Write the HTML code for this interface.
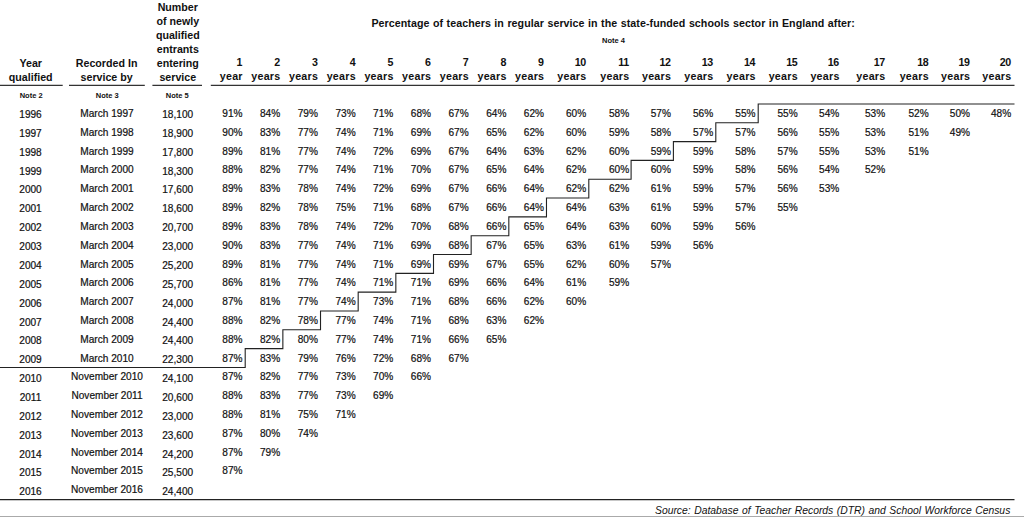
<!DOCTYPE html>
<html><head><meta charset="utf-8"><title>Teacher retention</title>
<style>
html,body{margin:0;padding:0;background:#fff;}
body{width:1024px;height:518px;position:relative;overflow:hidden;font-family:"Liberation Sans",Arial,sans-serif;color:#1a1a1a;}
.t{position:absolute;white-space:nowrap;}
.b{font-weight:bold;font-size:10.67px;line-height:13px;color:#111;}
.d{font-size:10.1px;line-height:12px;color:#111;-webkit-text-stroke:0.2px #111;}
.n{font-weight:bold;font-size:7.5px;line-height:9px;color:#111;}
.i{font-style:italic;font-size:10.35px;line-height:12px;color:#111;word-spacing:0.68px;}
.ti{word-spacing:0.45px;letter-spacing:0.06px;}
.yl{letter-spacing:.27px;}
.nl{letter-spacing:-.4px;}
svg{position:absolute;left:0;top:0;}
.ln{stroke:#222;stroke-width:1.1;fill:none;}
.ln2{stroke:#333;stroke-width:1.3;}
.ln3{stroke:#222;stroke-width:1.1;}
.lg{stroke:#aaa;stroke-width:1;}
</style></head><body>
<svg width="1024" height="518" viewBox="0 0 1024 518">
<line class="ln2" x1="0.00" y1="85.30" x2="62.70" y2="85.30"/>
<line class="ln2" x1="69.00" y1="85.30" x2="144.80" y2="85.30"/>
<line class="ln2" x1="152.40" y1="85.30" x2="202.00" y2="85.30"/>
<line class="ln2" x1="210.80" y1="85.30" x2="1014.50" y2="85.30"/>
<polyline class="ln" points="1014.50,103.95 758.20,103.95 758.20,122.77 715.80,122.77 715.80,141.59 673.40,141.59 673.40,160.41 631.10,160.41 631.10,179.23 588.80,179.23 588.80,198.05 546.48,198.05 546.48,216.87 508.82,216.87 508.82,235.69 471.16,235.69 471.16,254.51 433.50,254.51 433.50,273.33 395.84,273.33 395.84,292.15 358.18,292.15 358.18,310.97 320.52,310.97 320.52,329.79 282.86,329.79 282.86,348.61 245.20,348.61 245.20,367.43 0.00,367.43"/>
<line class="ln3" x1="0.00" y1="499.60" x2="1014.50" y2="499.60"/>
<line class="lg" x1="0.00" y1="516.50" x2="1024.00" y2="516.50"/>
</svg>
<div class="t b ti" style="top:17px;left:371.40px">Percentage of teachers in regular service in the state-funded schools sector in England after:</div>
<div class="t n" style="top:36px;left:463.50px;width:300px;text-align:center">Note 4</div>
<div class="t b" style="top:57px;left:-119.30px;width:300px;text-align:center">Year</div>
<div class="t b" style="top:71px;left:-119.30px;width:300px;text-align:center">qualified</div>
<div class="t b" style="top:57px;left:-43.40px;width:300px;text-align:center">Recorded In</div>
<div class="t b" style="top:71px;left:-43.40px;width:300px;text-align:center">service by</div>
<div class="t b" style="top:1px;left:27.80px;width:300px;text-align:center">Number</div>
<div class="t b" style="top:15px;left:27.80px;width:300px;text-align:center">of newly</div>
<div class="t b" style="top:29px;left:27.80px;width:300px;text-align:center">qualified</div>
<div class="t b" style="top:43px;left:27.80px;width:300px;text-align:center">entrants</div>
<div class="t b" style="top:57px;left:27.80px;width:300px;text-align:center">entering</div>
<div class="t b" style="top:71px;left:27.80px;width:300px;text-align:center">service</div>
<div class="t b nl" style="top:56px;right:781.90px">1</div>
<div class="t b yl" style="top:70px;right:781.23px">year</div>
<div class="t b nl" style="top:56px;right:744.20px">2</div>
<div class="t b yl" style="top:70px;right:743.53px">years</div>
<div class="t b nl" style="top:56px;right:706.50px">3</div>
<div class="t b yl" style="top:70px;right:705.83px">years</div>
<div class="t b nl" style="top:56px;right:668.80px">4</div>
<div class="t b yl" style="top:70px;right:668.13px">years</div>
<div class="t b nl" style="top:56px;right:631.10px">5</div>
<div class="t b yl" style="top:70px;right:630.43px">years</div>
<div class="t b nl" style="top:56px;right:593.40px">6</div>
<div class="t b yl" style="top:70px;right:592.73px">years</div>
<div class="t b nl" style="top:56px;right:555.70px">7</div>
<div class="t b yl" style="top:70px;right:555.03px">years</div>
<div class="t b nl" style="top:56px;right:518.00px">8</div>
<div class="t b yl" style="top:70px;right:517.33px">years</div>
<div class="t b nl" style="top:56px;right:480.40px">9</div>
<div class="t b yl" style="top:70px;right:479.73px">years</div>
<div class="t b nl" style="top:56px;right:438.20px">10</div>
<div class="t b yl" style="top:70px;right:437.53px">years</div>
<div class="t b nl" style="top:56px;right:395.20px">11</div>
<div class="t b yl" style="top:70px;right:394.53px">years</div>
<div class="t b nl" style="top:56px;right:353.50px">12</div>
<div class="t b yl" style="top:70px;right:352.83px">years</div>
<div class="t b nl" style="top:56px;right:311.20px">13</div>
<div class="t b yl" style="top:70px;right:310.53px">years</div>
<div class="t b nl" style="top:56px;right:268.90px">14</div>
<div class="t b yl" style="top:70px;right:268.23px">years</div>
<div class="t b nl" style="top:56px;right:226.80px">15</div>
<div class="t b yl" style="top:70px;right:226.13px">years</div>
<div class="t b nl" style="top:56px;right:185.10px">16</div>
<div class="t b yl" style="top:70px;right:184.43px">years</div>
<div class="t b nl" style="top:56px;right:139.20px">17</div>
<div class="t b yl" style="top:70px;right:138.53px">years</div>
<div class="t b nl" style="top:56px;right:95.80px">18</div>
<div class="t b yl" style="top:70px;right:95.13px">years</div>
<div class="t b nl" style="top:56px;right:54.40px">19</div>
<div class="t b yl" style="top:70px;right:53.73px">years</div>
<div class="t b nl" style="top:56px;right:13.20px">20</div>
<div class="t b yl" style="top:70px;right:12.53px">years</div>
<div class="t n" style="top:91px;left:-118.90px;width:300px;text-align:center">Note 2</div>
<div class="t n" style="top:91px;left:-42.80px;width:300px;text-align:center">Note 3</div>
<div class="t n" style="top:91px;left:27.20px;width:300px;text-align:center">Note 5</div>
<div class="t d" style="top:109px;left:-119.50px;width:300px;text-align:center">1996</div>
<div class="t d" style="top:108px;left:-43.00px;width:300px;text-align:center">March 1997</div>
<div class="t d" style="top:109px;left:27.70px;width:300px;text-align:center">18,100</div>
<div class="t d" style="top:108px;right:781.50px">91%</div>
<div class="t d" style="top:108px;right:743.80px">84%</div>
<div class="t d" style="top:108px;right:706.10px">79%</div>
<div class="t d" style="top:108px;right:668.40px">73%</div>
<div class="t d" style="top:108px;right:630.70px">71%</div>
<div class="t d" style="top:108px;right:593.00px">68%</div>
<div class="t d" style="top:108px;right:555.30px">67%</div>
<div class="t d" style="top:108px;right:517.60px">64%</div>
<div class="t d" style="top:108px;right:480.00px">62%</div>
<div class="t d" style="top:108px;right:437.80px">60%</div>
<div class="t d" style="top:108px;right:394.80px">58%</div>
<div class="t d" style="top:108px;right:353.10px">57%</div>
<div class="t d" style="top:108px;right:310.80px">56%</div>
<div class="t d" style="top:108px;right:268.50px">55%</div>
<div class="t d" style="top:108px;right:226.40px">55%</div>
<div class="t d" style="top:108px;right:184.70px">54%</div>
<div class="t d" style="top:108px;right:138.80px">53%</div>
<div class="t d" style="top:108px;right:95.40px">52%</div>
<div class="t d" style="top:108px;right:54.00px">50%</div>
<div class="t d" style="top:108px;right:12.80px">48%</div>
<div class="t d" style="top:128px;left:-119.50px;width:300px;text-align:center">1997</div>
<div class="t d" style="top:127px;left:-43.00px;width:300px;text-align:center">March 1998</div>
<div class="t d" style="top:128px;left:27.70px;width:300px;text-align:center">18,900</div>
<div class="t d" style="top:127px;right:781.50px">90%</div>
<div class="t d" style="top:127px;right:743.80px">83%</div>
<div class="t d" style="top:127px;right:706.10px">77%</div>
<div class="t d" style="top:127px;right:668.40px">74%</div>
<div class="t d" style="top:127px;right:630.70px">71%</div>
<div class="t d" style="top:127px;right:593.00px">69%</div>
<div class="t d" style="top:127px;right:555.30px">67%</div>
<div class="t d" style="top:127px;right:517.60px">65%</div>
<div class="t d" style="top:127px;right:480.00px">62%</div>
<div class="t d" style="top:127px;right:437.80px">60%</div>
<div class="t d" style="top:127px;right:394.80px">59%</div>
<div class="t d" style="top:127px;right:353.10px">58%</div>
<div class="t d" style="top:127px;right:310.80px">57%</div>
<div class="t d" style="top:127px;right:268.50px">57%</div>
<div class="t d" style="top:127px;right:226.40px">56%</div>
<div class="t d" style="top:127px;right:184.70px">55%</div>
<div class="t d" style="top:127px;right:138.80px">53%</div>
<div class="t d" style="top:127px;right:95.40px">51%</div>
<div class="t d" style="top:127px;right:54.00px">49%</div>
<div class="t d" style="top:147px;left:-119.50px;width:300px;text-align:center">1998</div>
<div class="t d" style="top:146px;left:-43.00px;width:300px;text-align:center">March 1999</div>
<div class="t d" style="top:147px;left:27.70px;width:300px;text-align:center">17,800</div>
<div class="t d" style="top:146px;right:781.50px">89%</div>
<div class="t d" style="top:146px;right:743.80px">81%</div>
<div class="t d" style="top:146px;right:706.10px">77%</div>
<div class="t d" style="top:146px;right:668.40px">74%</div>
<div class="t d" style="top:146px;right:630.70px">72%</div>
<div class="t d" style="top:146px;right:593.00px">69%</div>
<div class="t d" style="top:146px;right:555.30px">67%</div>
<div class="t d" style="top:146px;right:517.60px">64%</div>
<div class="t d" style="top:146px;right:480.00px">63%</div>
<div class="t d" style="top:146px;right:437.80px">62%</div>
<div class="t d" style="top:146px;right:394.80px">60%</div>
<div class="t d" style="top:146px;right:353.10px">59%</div>
<div class="t d" style="top:146px;right:310.80px">59%</div>
<div class="t d" style="top:146px;right:268.50px">58%</div>
<div class="t d" style="top:146px;right:226.40px">57%</div>
<div class="t d" style="top:146px;right:184.70px">55%</div>
<div class="t d" style="top:146px;right:138.80px">53%</div>
<div class="t d" style="top:146px;right:95.40px">51%</div>
<div class="t d" style="top:166px;left:-119.50px;width:300px;text-align:center">1999</div>
<div class="t d" style="top:164px;left:-43.00px;width:300px;text-align:center">March 2000</div>
<div class="t d" style="top:166px;left:27.70px;width:300px;text-align:center">18,300</div>
<div class="t d" style="top:164px;right:781.50px">88%</div>
<div class="t d" style="top:164px;right:743.80px">82%</div>
<div class="t d" style="top:164px;right:706.10px">77%</div>
<div class="t d" style="top:164px;right:668.40px">74%</div>
<div class="t d" style="top:164px;right:630.70px">71%</div>
<div class="t d" style="top:164px;right:593.00px">70%</div>
<div class="t d" style="top:164px;right:555.30px">67%</div>
<div class="t d" style="top:164px;right:517.60px">65%</div>
<div class="t d" style="top:164px;right:480.00px">64%</div>
<div class="t d" style="top:164px;right:437.80px">62%</div>
<div class="t d" style="top:164px;right:394.80px">60%</div>
<div class="t d" style="top:164px;right:353.10px">60%</div>
<div class="t d" style="top:164px;right:310.80px">59%</div>
<div class="t d" style="top:164px;right:268.50px">58%</div>
<div class="t d" style="top:164px;right:226.40px">56%</div>
<div class="t d" style="top:164px;right:184.70px">54%</div>
<div class="t d" style="top:164px;right:138.80px">52%</div>
<div class="t d" style="top:184px;left:-119.50px;width:300px;text-align:center">2000</div>
<div class="t d" style="top:183px;left:-43.00px;width:300px;text-align:center">March 2001</div>
<div class="t d" style="top:184px;left:27.70px;width:300px;text-align:center">17,600</div>
<div class="t d" style="top:183px;right:781.50px">89%</div>
<div class="t d" style="top:183px;right:743.80px">83%</div>
<div class="t d" style="top:183px;right:706.10px">78%</div>
<div class="t d" style="top:183px;right:668.40px">74%</div>
<div class="t d" style="top:183px;right:630.70px">72%</div>
<div class="t d" style="top:183px;right:593.00px">69%</div>
<div class="t d" style="top:183px;right:555.30px">67%</div>
<div class="t d" style="top:183px;right:517.60px">66%</div>
<div class="t d" style="top:183px;right:480.00px">64%</div>
<div class="t d" style="top:183px;right:437.80px">62%</div>
<div class="t d" style="top:183px;right:394.80px">62%</div>
<div class="t d" style="top:183px;right:353.10px">61%</div>
<div class="t d" style="top:183px;right:310.80px">59%</div>
<div class="t d" style="top:183px;right:268.50px">57%</div>
<div class="t d" style="top:183px;right:226.40px">56%</div>
<div class="t d" style="top:183px;right:184.70px">53%</div>
<div class="t d" style="top:203px;left:-119.50px;width:300px;text-align:center">2001</div>
<div class="t d" style="top:202px;left:-43.00px;width:300px;text-align:center">March 2002</div>
<div class="t d" style="top:203px;left:27.70px;width:300px;text-align:center">18,600</div>
<div class="t d" style="top:202px;right:781.50px">89%</div>
<div class="t d" style="top:202px;right:743.80px">82%</div>
<div class="t d" style="top:202px;right:706.10px">78%</div>
<div class="t d" style="top:202px;right:668.40px">75%</div>
<div class="t d" style="top:202px;right:630.70px">71%</div>
<div class="t d" style="top:202px;right:593.00px">68%</div>
<div class="t d" style="top:202px;right:555.30px">67%</div>
<div class="t d" style="top:202px;right:517.60px">66%</div>
<div class="t d" style="top:202px;right:480.00px">64%</div>
<div class="t d" style="top:202px;right:437.80px">64%</div>
<div class="t d" style="top:202px;right:394.80px">63%</div>
<div class="t d" style="top:202px;right:353.10px">61%</div>
<div class="t d" style="top:202px;right:310.80px">59%</div>
<div class="t d" style="top:202px;right:268.50px">57%</div>
<div class="t d" style="top:202px;right:226.40px">55%</div>
<div class="t d" style="top:222px;left:-119.50px;width:300px;text-align:center">2002</div>
<div class="t d" style="top:221px;left:-43.00px;width:300px;text-align:center">March 2003</div>
<div class="t d" style="top:222px;left:27.70px;width:300px;text-align:center">20,700</div>
<div class="t d" style="top:221px;right:781.50px">89%</div>
<div class="t d" style="top:221px;right:743.80px">83%</div>
<div class="t d" style="top:221px;right:706.10px">78%</div>
<div class="t d" style="top:221px;right:668.40px">74%</div>
<div class="t d" style="top:221px;right:630.70px">72%</div>
<div class="t d" style="top:221px;right:593.00px">70%</div>
<div class="t d" style="top:221px;right:555.30px">68%</div>
<div class="t d" style="top:221px;right:517.60px">66%</div>
<div class="t d" style="top:221px;right:480.00px">65%</div>
<div class="t d" style="top:221px;right:437.80px">64%</div>
<div class="t d" style="top:221px;right:394.80px">63%</div>
<div class="t d" style="top:221px;right:353.10px">60%</div>
<div class="t d" style="top:221px;right:310.80px">59%</div>
<div class="t d" style="top:221px;right:268.50px">56%</div>
<div class="t d" style="top:241px;left:-119.50px;width:300px;text-align:center">2003</div>
<div class="t d" style="top:240px;left:-43.00px;width:300px;text-align:center">March 2004</div>
<div class="t d" style="top:241px;left:27.70px;width:300px;text-align:center">23,000</div>
<div class="t d" style="top:240px;right:781.50px">90%</div>
<div class="t d" style="top:240px;right:743.80px">83%</div>
<div class="t d" style="top:240px;right:706.10px">77%</div>
<div class="t d" style="top:240px;right:668.40px">74%</div>
<div class="t d" style="top:240px;right:630.70px">71%</div>
<div class="t d" style="top:240px;right:593.00px">69%</div>
<div class="t d" style="top:240px;right:555.30px">68%</div>
<div class="t d" style="top:240px;right:517.60px">67%</div>
<div class="t d" style="top:240px;right:480.00px">65%</div>
<div class="t d" style="top:240px;right:437.80px">63%</div>
<div class="t d" style="top:240px;right:394.80px">61%</div>
<div class="t d" style="top:240px;right:353.10px">59%</div>
<div class="t d" style="top:240px;right:310.80px">56%</div>
<div class="t d" style="top:260px;left:-119.50px;width:300px;text-align:center">2004</div>
<div class="t d" style="top:259px;left:-43.00px;width:300px;text-align:center">March 2005</div>
<div class="t d" style="top:260px;left:27.70px;width:300px;text-align:center">25,200</div>
<div class="t d" style="top:259px;right:781.50px">89%</div>
<div class="t d" style="top:259px;right:743.80px">81%</div>
<div class="t d" style="top:259px;right:706.10px">77%</div>
<div class="t d" style="top:259px;right:668.40px">74%</div>
<div class="t d" style="top:259px;right:630.70px">71%</div>
<div class="t d" style="top:259px;right:593.00px">69%</div>
<div class="t d" style="top:259px;right:555.30px">69%</div>
<div class="t d" style="top:259px;right:517.60px">67%</div>
<div class="t d" style="top:259px;right:480.00px">65%</div>
<div class="t d" style="top:259px;right:437.80px">62%</div>
<div class="t d" style="top:259px;right:394.80px">60%</div>
<div class="t d" style="top:259px;right:353.10px">57%</div>
<div class="t d" style="top:279px;left:-119.50px;width:300px;text-align:center">2005</div>
<div class="t d" style="top:277px;left:-43.00px;width:300px;text-align:center">March 2006</div>
<div class="t d" style="top:279px;left:27.70px;width:300px;text-align:center">25,700</div>
<div class="t d" style="top:277px;right:781.50px">86%</div>
<div class="t d" style="top:277px;right:743.80px">81%</div>
<div class="t d" style="top:277px;right:706.10px">77%</div>
<div class="t d" style="top:277px;right:668.40px">74%</div>
<div class="t d" style="top:277px;right:630.70px">71%</div>
<div class="t d" style="top:277px;right:593.00px">71%</div>
<div class="t d" style="top:277px;right:555.30px">69%</div>
<div class="t d" style="top:277px;right:517.60px">66%</div>
<div class="t d" style="top:277px;right:480.00px">64%</div>
<div class="t d" style="top:277px;right:437.80px">61%</div>
<div class="t d" style="top:277px;right:394.80px">59%</div>
<div class="t d" style="top:298px;left:-119.50px;width:300px;text-align:center">2006</div>
<div class="t d" style="top:296px;left:-43.00px;width:300px;text-align:center">March 2007</div>
<div class="t d" style="top:298px;left:27.70px;width:300px;text-align:center">24,000</div>
<div class="t d" style="top:296px;right:781.50px">87%</div>
<div class="t d" style="top:296px;right:743.80px">81%</div>
<div class="t d" style="top:296px;right:706.10px">77%</div>
<div class="t d" style="top:296px;right:668.40px">74%</div>
<div class="t d" style="top:296px;right:630.70px">73%</div>
<div class="t d" style="top:296px;right:593.00px">71%</div>
<div class="t d" style="top:296px;right:555.30px">68%</div>
<div class="t d" style="top:296px;right:517.60px">66%</div>
<div class="t d" style="top:296px;right:480.00px">62%</div>
<div class="t d" style="top:296px;right:437.80px">60%</div>
<div class="t d" style="top:317px;left:-119.50px;width:300px;text-align:center">2007</div>
<div class="t d" style="top:315px;left:-43.00px;width:300px;text-align:center">March 2008</div>
<div class="t d" style="top:317px;left:27.70px;width:300px;text-align:center">24,400</div>
<div class="t d" style="top:315px;right:781.50px">88%</div>
<div class="t d" style="top:315px;right:743.80px">82%</div>
<div class="t d" style="top:315px;right:706.10px">78%</div>
<div class="t d" style="top:315px;right:668.40px">77%</div>
<div class="t d" style="top:315px;right:630.70px">74%</div>
<div class="t d" style="top:315px;right:593.00px">71%</div>
<div class="t d" style="top:315px;right:555.30px">68%</div>
<div class="t d" style="top:315px;right:517.60px">63%</div>
<div class="t d" style="top:315px;right:480.00px">62%</div>
<div class="t d" style="top:335px;left:-119.50px;width:300px;text-align:center">2008</div>
<div class="t d" style="top:334px;left:-43.00px;width:300px;text-align:center">March 2009</div>
<div class="t d" style="top:335px;left:27.70px;width:300px;text-align:center">24,400</div>
<div class="t d" style="top:334px;right:781.50px">88%</div>
<div class="t d" style="top:334px;right:743.80px">82%</div>
<div class="t d" style="top:334px;right:706.10px">80%</div>
<div class="t d" style="top:334px;right:668.40px">77%</div>
<div class="t d" style="top:334px;right:630.70px">74%</div>
<div class="t d" style="top:334px;right:593.00px">71%</div>
<div class="t d" style="top:334px;right:555.30px">66%</div>
<div class="t d" style="top:334px;right:517.60px">65%</div>
<div class="t d" style="top:354px;left:-119.50px;width:300px;text-align:center">2009</div>
<div class="t d" style="top:353px;left:-43.00px;width:300px;text-align:center">March 2010</div>
<div class="t d" style="top:354px;left:27.70px;width:300px;text-align:center">22,300</div>
<div class="t d" style="top:353px;right:781.50px">87%</div>
<div class="t d" style="top:353px;right:743.80px">83%</div>
<div class="t d" style="top:353px;right:706.10px">79%</div>
<div class="t d" style="top:353px;right:668.40px">76%</div>
<div class="t d" style="top:353px;right:630.70px">72%</div>
<div class="t d" style="top:353px;right:593.00px">68%</div>
<div class="t d" style="top:353px;right:555.30px">67%</div>
<div class="t d" style="top:373px;left:-119.50px;width:300px;text-align:center">2010</div>
<div class="t d" style="top:371px;left:-43.00px;width:300px;text-align:center">November 2010</div>
<div class="t d" style="top:373px;left:27.70px;width:300px;text-align:center">24,100</div>
<div class="t d" style="top:371px;right:781.50px">87%</div>
<div class="t d" style="top:371px;right:743.80px">82%</div>
<div class="t d" style="top:371px;right:706.10px">77%</div>
<div class="t d" style="top:371px;right:668.40px">73%</div>
<div class="t d" style="top:371px;right:630.70px">70%</div>
<div class="t d" style="top:371px;right:593.00px">66%</div>
<div class="t d" style="top:392px;left:-119.50px;width:300px;text-align:center">2011</div>
<div class="t d" style="top:390px;left:-43.00px;width:300px;text-align:center">November 2011</div>
<div class="t d" style="top:392px;left:27.70px;width:300px;text-align:center">20,600</div>
<div class="t d" style="top:390px;right:781.50px">88%</div>
<div class="t d" style="top:390px;right:743.80px">83%</div>
<div class="t d" style="top:390px;right:706.10px">77%</div>
<div class="t d" style="top:390px;right:668.40px">73%</div>
<div class="t d" style="top:390px;right:630.70px">69%</div>
<div class="t d" style="top:411px;left:-119.50px;width:300px;text-align:center">2012</div>
<div class="t d" style="top:409px;left:-43.00px;width:300px;text-align:center">November 2012</div>
<div class="t d" style="top:411px;left:27.70px;width:300px;text-align:center">23,000</div>
<div class="t d" style="top:409px;right:781.50px">88%</div>
<div class="t d" style="top:409px;right:743.80px">81%</div>
<div class="t d" style="top:409px;right:706.10px">75%</div>
<div class="t d" style="top:409px;right:668.40px">71%</div>
<div class="t d" style="top:430px;left:-119.50px;width:300px;text-align:center">2013</div>
<div class="t d" style="top:428px;left:-43.00px;width:300px;text-align:center">November 2013</div>
<div class="t d" style="top:430px;left:27.70px;width:300px;text-align:center">23,600</div>
<div class="t d" style="top:428px;right:781.50px">87%</div>
<div class="t d" style="top:428px;right:743.80px">80%</div>
<div class="t d" style="top:428px;right:706.10px">74%</div>
<div class="t d" style="top:449px;left:-119.50px;width:300px;text-align:center">2014</div>
<div class="t d" style="top:447px;left:-43.00px;width:300px;text-align:center">November 2014</div>
<div class="t d" style="top:449px;left:27.70px;width:300px;text-align:center">24,200</div>
<div class="t d" style="top:447px;right:781.50px">87%</div>
<div class="t d" style="top:447px;right:743.80px">79%</div>
<div class="t d" style="top:467px;left:-119.50px;width:300px;text-align:center">2015</div>
<div class="t d" style="top:465px;left:-43.00px;width:300px;text-align:center">November 2015</div>
<div class="t d" style="top:467px;left:27.70px;width:300px;text-align:center">25,500</div>
<div class="t d" style="top:465px;right:781.50px">87%</div>
<div class="t d" style="top:486px;left:-119.50px;width:300px;text-align:center">2016</div>
<div class="t d" style="top:484px;left:-43.00px;width:300px;text-align:center">November 2016</div>
<div class="t d" style="top:486px;left:27.70px;width:300px;text-align:center">24,400</div>
<div class="t i" style="top:505px;right:13.70px">Source: Database of Teacher Records (DTR) and School Workforce Census</div>
</body></html>
